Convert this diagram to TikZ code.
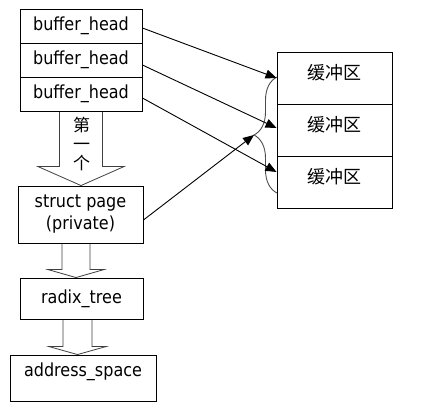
\documentclass[tikz,border=0pt]{standalone}
\usepackage{fontspec}
\setmainfont{DejaVu Sans}[FakeStretch=0.89]
\newfontfamily\cjk{Noto Sans CJK SC}
\usetikzlibrary{arrows.meta,decorations.pathreplacing,calc,backgrounds}
\newcommand\blkarrow[5]{%
  \draw[blockarrow] let \p1=(#1), \p2=(#2) in
    (\x1-#3pt,\y1) -- (\x1-#3pt,\y2+#5pt) -- (\x1-#4pt,\y2+#5pt) -- (\x1,\y2)
    -- (\x1+#4pt,\y2+#5pt) -- (\x1+#3pt,\y2+#5pt) -- (\x1+#3pt,\y1);}
\begin{document}
\begin{tikzpicture}[x=1pt,y=-1pt,
  box/.style={draw=black, line width=0.9pt, rectangle, inner sep=0pt, fill=white,
    font=\fontsize{18}{22}\selectfont, align=center},
  cjkbox/.style={draw=black, line width=0.9pt, rectangle, inner sep=0pt,
    minimum width=115pt, minimum height=52pt,
    label={[yshift=5pt, font=\cjk\fontsize{18}{22}\selectfont]center:缓冲区}},
  blockarrow/.style={draw=black!75, line width=0.8pt, fill=white, line join=miter},
  link/.style={draw=black, line width=0.9pt, -{Triangle[length=11pt,width=9pt]}},
  bracestyle/.style={draw=black!70, line width=0.9pt, decorate,
    decoration={brace, amplitude=23pt}},
]
\useasboundingbox (0,0) rectangle (429,418);

% left column
\node[box, minimum width=122pt, minimum height=34pt] (bh1) at (81,26) {buffer\_head};
\node[box, minimum width=122pt, minimum height=34pt] (bh2) at (81,60) {buffer\_head};
\node[box, minimum width=122pt, minimum height=34pt] (bh3) at (81,94) {buffer\_head};
\node[box, minimum width=125pt, minimum height=57pt] (page) at (80.5,214.5) {struct page\\(private)};
\node[box, minimum width=123pt, minimum height=41pt] (radix) at (81.5,298.5) {radix\_tree};
\node[box, minimum width=146pt, minimum height=46pt,
  label={[yshift=6pt, font=\fontsize{18}{22}\selectfont]center:address\_space}] (addr) at (83,378) {};

% block arrows
\begin{scope}[on background layer]
  \blkarrow{bh3.south}{page.north}{21.5}{43}{19}
  \blkarrow{[xshift=-4.5pt]page.south}{radix.north}{14}{28}{8}
  \blkarrow{[xshift=-4pt]radix.south}{addr.north}{14.5}{28.5}{8}
\end{scope}
\node[font=\cjk\fontsize{17}{19}\selectfont, align=center, inner sep=0pt] (first) at (81.5,144) {第\\一\\个};

% right column
\node[cjkbox] (buf1) at (334.5,78) {};
\node[cjkbox] (buf2) at (334.5,130) {};
\node[cjkbox] (buf3) at (334.5,182) {};

% brace
\coordinate (bbot) at (277,193);
\coordinate (btop) at (277,77);
\coordinate (btip) at (254,135);
\draw[bracestyle] (bbot) -- (btop);

% links
\draw[link] ([yshift=-2pt]bh1.east) -- (buf1.west);
\draw[link] ([yshift=-5pt]bh2.east) -- ([yshift=2pt]buf2.west);
\draw[link] ([yshift=-4pt]bh3.east) -- ([yshift=10pt]buf3.west);
\draw[link] ([yshift=-5.5pt]page.east) -- (btip);
\end{tikzpicture}
\end{document}
